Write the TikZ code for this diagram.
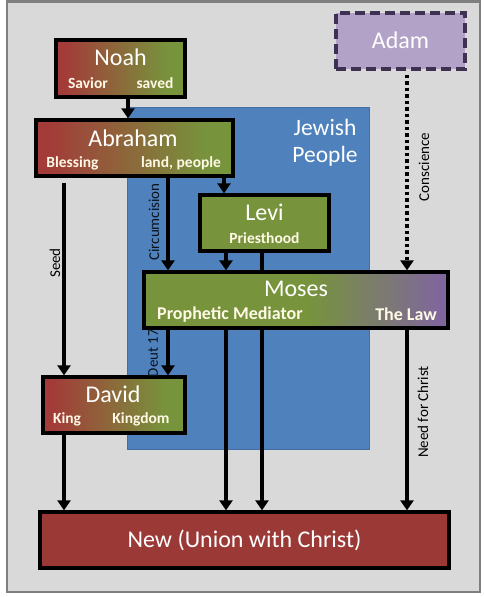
\documentclass[tikz,border=0pt]{standalone}
\usepackage{fontspec}
\setmainfont{Carlito}
\usetikzlibrary{arrows.meta}
\definecolor{cred}{HTML}{A33B39}
\definecolor{cgreen}{HTML}{77933C}
\definecolor{cpurple}{HTML}{8064A2}
\definecolor{cnew}{HTML}{9B3937}
\definecolor{cblue}{HTML}{4F81BD}
\definecolor{cadam}{HTML}{B3A2C7}
\definecolor{cadamline}{HTML}{3F3151}
\definecolor{cframe}{HTML}{D9D9D9}
\definecolor{cframeline}{HTML}{7F7F7F}
\definecolor{ccream}{HTML}{FFF9E6}
\pgfdeclarehorizontalshading{redgreen}{100bp}{color(0bp)=(cred); color(28bp)=(cred); color(68bp)=(cgreen); color(100bp)=(cgreen)}
\pgfdeclarehorizontalshading{greenpurple}{100bp}{color(0bp)=(cgreen); color(52bp)=(cgreen); color(75bp)=(cpurple); color(100bp)=(cpurple)}
\tikzset{
  box/.style={draw=black, line width=3.3pt, rectangle, inner sep=0pt},
  title/.style={text=white, font=\fontsize{24}{28}\selectfont, inner sep=0pt, anchor=center},
  sub/.style={text=ccream, font=\bfseries\fontsize{15.5}{18}\selectfont, inner sep=0pt, anchor=center},
  arr/.style={line width=3.6pt, -{Triangle[length=10pt,width=13pt]}},
  side/.style={rotate=90, font=\fontsize{15}{18}\selectfont, inner sep=0pt, text=black, anchor=center}
}
\begin{document}
\begin{tikzpicture}[x=1pt,y=-1pt]
\useasboundingbox (0,0) rectangle (484,597);
\fill[white] (0,0) rectangle (484,597);
% frame
\draw[fill=cframe, draw=cframeline, line width=2.8pt] (7,1.5) rectangle (480,592);
% Jewish people region
\fill[cblue] (127,107) rectangle (369,449);
\draw[color=cblue!85!black, line width=0.6pt] (127,107) rectangle (369,449);
\node[title, font=\fontsize{23.5}{27}\selectfont] (jp1) at (325,127) {Jewish};
\node[title, font=\fontsize{23.5}{27}\selectfont] (jp2) at (325,156) {People};

% column coordinates
\coordinate (c64) at (64,0);
\coordinate (c128) at (128,0);
\coordinate (c168) at (168,0);
\coordinate (c224) at (224,0);
\coordinate (c226) at (226,0);
\coordinate (c262) at (262,0);
\coordinate (c407) at (407,0);

% boxes
\node[box, shading=redgreen, minimum width=129pt, minimum height=57pt] (noah) at (120.5,68.5) {};
\node[title] (noahT) at (120.5,57) {Noah};
\node[sub] (noahA) at (88,83) {Savior};
\node[sub] (noahB) at (155,83) {saved};

\node[box, shading=redgreen, minimum width=197pt, minimum height=56pt] (abraham) at (134.5,148) {};
\node[title] (abrahamT) at (133,138) {Abraham};
\node[sub] (abrahamA) at (72.5,163) {Blessing};
\node[sub] (abrahamB) at (181,163) {land, people};

\node[box, fill=cgreen, minimum width=129pt, minimum height=56pt] (levi) at (264.5,223) {};
\node[title] (leviT) at (264.5,212) {Levi};
\node[sub] (leviA) at (264.5,238) {Priesthood};

\node[box, fill=cadam, draw=cadamline, dash pattern=on 10pt off 5pt, minimum width=129pt, minimum height=56pt] (adam) at (400.5,41) {};
\node[title] (adamT) at (400.5,40) {Adam};

\node[box, shading=redgreen, minimum width=142pt, minimum height=56pt] (david) at (114,405) {};
\node[title] (davidT) at (113,394) {David};
\node[sub] (davidA) at (67,419) {King};
\node[sub] (davidB) at (141,419) {Kingdom};

\node[box, fill=cnew, minimum width=409pt, minimum height=56pt] (new) at (244.5,540) {};
\node[title] (newT) at (244.5,540) {New (Union with Christ)};

% line from Levi to New passing behind Moses
\draw[arr] (levi.south -| c262) ++(0,-3) -- (new.north -| c262);

\node[box, shading=greenpurple, minimum width=304pt, minimum height=56pt] (moses) at (296,300) {};
\node[title] (mosesT) at (296,289) {Moses};
\node[sub, font=\bfseries\fontsize{18}{21}\selectfont] (mosesA) at (230,314.5) {Prophetic Mediator};
\node[sub, font=\bfseries\fontsize{18}{21}\selectfont] (mosesB) at (406,314.5) {The Law};

% connectors
\draw[arr] (noah.south -| c128) -- (abraham.north -| c128);
\draw[arr, shorten <=5pt] (abraham.south -| c64) -- (david.north -| c64);
\draw[arr] (abraham.south -| c168) -- (moses.north -| c168);
\draw[arr] (abraham.south -| c224) -- (levi.north -| c224);
\draw[arr] (levi.south -| c226) -- (moses.north -| c226);
\draw[arr] (moses.south -| c168) -- (david.north -| c168);
\draw[arr] (moses.south -| c226) -- (new.north -| c226);
\draw[arr] (moses.south -| c407) -- (new.north -| c407);
\draw[arr] (david.south -| c64) -- (new.north -| c64);
\draw[line width=4pt, dash pattern=on 3.5pt off 3pt, -{Triangle[length=10pt,width=13pt]}] (adam.south -| c407) ++(0,4) -- (moses.north -| c407);

% connector labels
\node[side] (seedL) at (55,263) {Seed};
\node[side, text=black!85!cblue] (circL) at (154,222) {Circumcision};
\node[side] (consL) at (424,167) {Conscience};
\node[side, text=black!85!cblue] (deutL) at (153,353) {Deut 17};
\node[side] (needL) at (423,412) {Need for Christ};
\end{tikzpicture}
\end{document}
